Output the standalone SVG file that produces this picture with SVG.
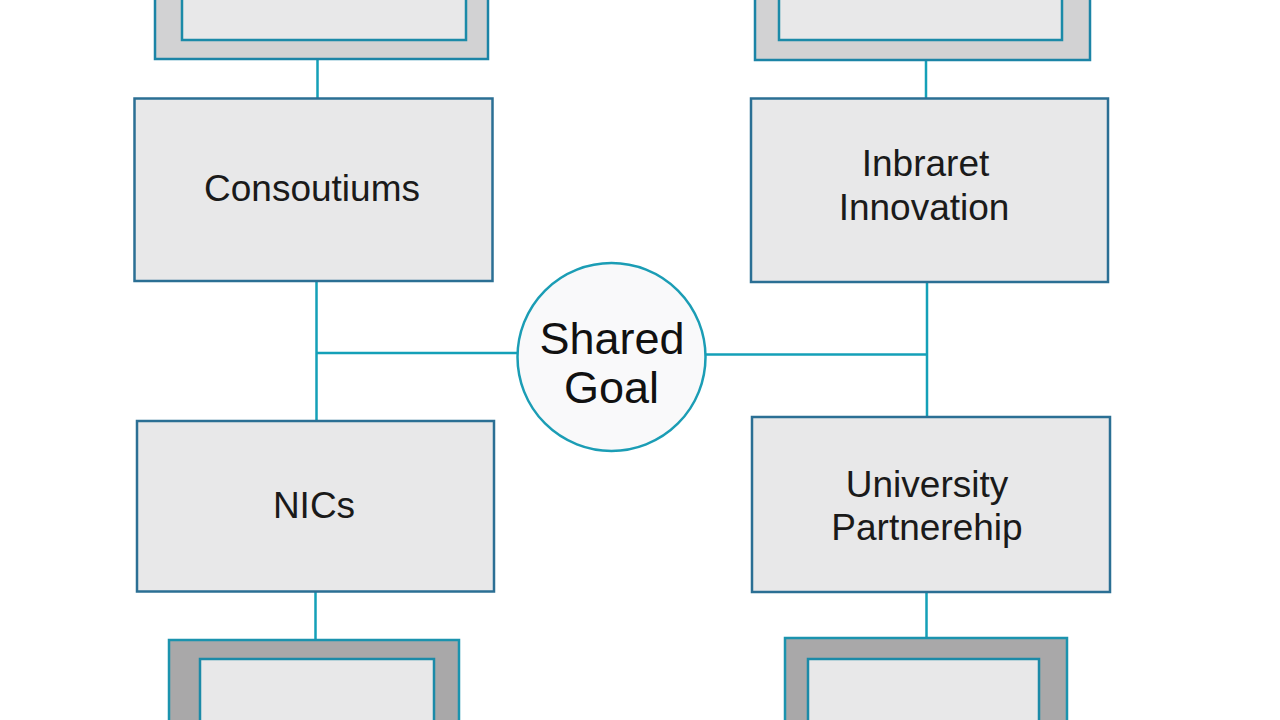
<svg xmlns="http://www.w3.org/2000/svg" width="1280" height="720" viewBox="0 0 1280 720">
<style>
text{font-family:"Liberation Sans",Arial,sans-serif;fill:#1a1a1a;text-anchor:middle}
.l{font-size:37px}
.g{font-size:45px;fill:#111}
.box{fill:#e8e8e9;stroke:#2b6f94;stroke-width:2.5}
.in{fill:#e8e8e9;stroke:#1b8aa8;stroke-width:2.5}
.ol{fill:#d2d2d3;stroke:#1b84a6;stroke-width:2.5}
.od{fill:#a9a8a9;stroke:#1b93ae;stroke-width:2.5}
.c{fill:none;stroke:#14a0b8;stroke-width:2.5}
</style>
<rect width="1280" height="720" fill="#fff"/>
<g id="connectors">
<path class="c" d="M317.500 59V99M316.500 281V421M316.500 353H518M315.500 591V640"/>
<path class="c" d="M926 59V99M927 282V417M706 354.500H927M926.500 591V638"/>
</g>
<g id="top-left"><rect class="ol" x="155" y="-20" width="333" height="79"/><rect class="in" x="182" y="-20" width="284" height="60"/></g>
<g id="top-right"><rect class="ol" x="755" y="-20" width="335" height="80"/><rect class="in" x="779" y="-20" width="283" height="60"/></g>
<g id="consortiums"><rect class="box" x="134.500" y="98.500" width="358" height="182.500"/><text class="l" x="312" y="201">Consoutiums</text></g>
<g id="inbraret"><rect class="box" x="751" y="98.500" width="357" height="183.500"/><text class="l" x="925.500" y="176">Inbraret</text><text class="l" x="924" y="220">Innovation</text></g>
<g id="nics"><rect class="box" x="137" y="421" width="357" height="170.500"/><text class="l" x="314" y="518">NICs</text></g>
<g id="university"><rect class="box" x="752" y="417" width="358" height="175"/><text class="l" x="927" y="497">University</text><text class="l" x="927" y="540">Partnerehip</text></g>
<g id="shared-goal"><circle cx="611.500" cy="357" r="94" fill="#f9f9fa" stroke="#1b9db5" stroke-width="2.500"/><text class="g" x="612" y="354">Shared</text><text class="g" x="611.500" y="403">Goal</text></g>
<g id="bottom-left"><rect class="od" x="169" y="640" width="290" height="100"/><rect class="in" x="200" y="659" width="234" height="80"/></g>
<g id="bottom-right"><rect class="od" x="785" y="638" width="282" height="100"/><rect class="in" x="808" y="659" width="231" height="80"/></g>
</svg>
